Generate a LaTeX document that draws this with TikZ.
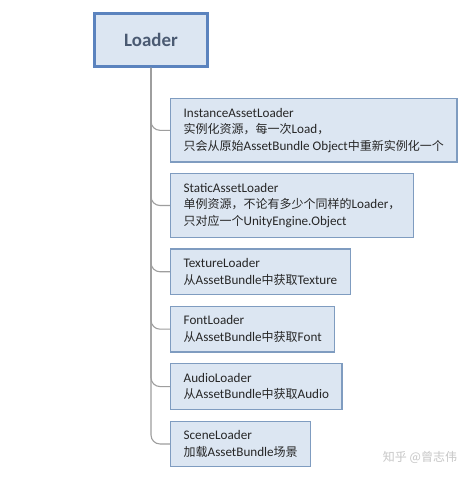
\documentclass[tikz,border=0pt]{standalone}
\usepackage{fontspec}
\setmainfont{Carlito}[Scale=1.05]
\newfontfamily\cjk{Noto Sans CJK SC}[Scale=0.96]
\newcommand{\zh}[1]{{\cjk #1}}
\usepackage{tikz}
\usetikzlibrary{positioning}

\definecolor{boxfill}{HTML}{DCE6F2}
\definecolor{rootline}{HTML}{5B83BE}
\definecolor{itemline}{HTML}{7F9CC0}
\definecolor{roottext}{HTML}{4A5A72}
\definecolor{itemtext}{HTML}{262626}
\definecolor{connline}{HTML}{9E9E9E}

\begin{document}
\begin{tikzpicture}
	[x=1pt, y=1pt,
	root/.style = {draw=rootline, line width=3pt, fill=boxfill, minimum width=113pt, minimum height=53pt, text=roottext, font=\fontsize{18}{20}\selectfont\bfseries},
	item/.style = {draw=itemline, line width=1.3pt, fill=boxfill, align=left, inner xsep=13pt, inner ysep=9.5pt, text=itemtext, font=\fontsize{12.5}{16.5}\selectfont},
	conn/.style = {draw=connline, line width=1.1pt, rounded corners=9pt}]
	\fill[white] (0,0) rectangle (474,-481);
	\useasboundingbox (0,0) rectangle (474,-481);
	\node[root] (loader) at (151,-40) {Loader};
	\node[item, anchor=north west] (inst) at (170,-98) {InstanceAssetLoader\\\zh{实例化资源，每一次}Load\zh{，}\\\zh{只会从原始}AssetBundle Object\zh{中重新实例化一个}};
	\node[item] (static) [below=10.5pt of inst.south west, anchor=north west] {StaticAssetLoader\\\zh{单例资源，不论有多少个同样的}Loader\zh{，}\\\zh{只对应一个}UnityEngine.Object};
	\node[item] (texture) [below=10.5pt of static.south west, anchor=north west] {TextureLoader\\\zh{从}AssetBundle\zh{中获取}Texture};
	\node[item] (font) [below=10.5pt of texture.south west, anchor=north west] {FontLoader\\\zh{从}AssetBundle\zh{中获取}Font};
	\node[item] (audio) [below=10.5pt of font.south west, anchor=north west] {AudioLoader\\\zh{从}AssetBundle\zh{中获取}Audio};
	\node[item] (scene) [below=10.5pt of audio.south west, anchor=north west] {SceneLoader\\\zh{加载}AssetBundle\zh{场景}};
	\draw[conn] (loader) |- (inst);
	\draw[conn] (loader) |- (static);
	\draw[conn] (loader) |- (texture);
	\draw[conn] (loader) |- (font);
	\draw[conn] (loader) |- (audio);
	\draw[conn] (loader) |- (scene);
	\node[text=black!22, font=\cjk\fontsize{12.5}{14}\selectfont] (mark) at (420,-457) {知乎 @曾志伟};
\end{tikzpicture}
\end{document}
